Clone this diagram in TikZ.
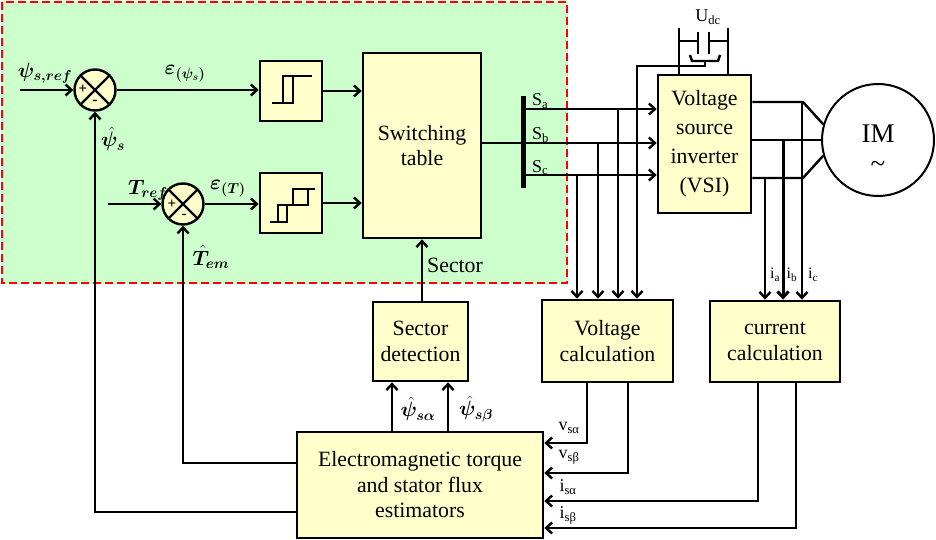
\documentclass[tikz,border=0pt]{standalone}
\usepackage{amsmath}
\usepackage{bm}
\usepackage{fontspec}
\setmainfont{Liberation Serif}
\usetikzlibrary{arrows.meta}
\definecolor{bggreen}{RGB}{204,255,204}
\definecolor{boxy}{RGB}{255,255,204}
\definecolor{dashred}{RGB}{255,0,0}
\tikzset{
  blk/.style={draw, line width=2.6pt, fill=boxy, inner sep=0pt, align=center, font=\fontsize{21.8}{25.5}\selectfont},
  wire/.style={line width=2.4pt},
  arr/.style={wire, -{Straight Barb[length=6pt,width=11pt]}},
  sym/.style={line width=2.4pt},
  lbl/.style={inner sep=0pt, font=\fontsize{20.5}{24}\selectfont},
  sml/.style={inner sep=0pt, font=\fontsize{18}{20}\selectfont},
  tiny/.style={inner sep=0pt, font=\fontsize{16}{18}\selectfont},
  sumj/.style={circle, draw, line width=2.4pt, fill=boxy, minimum size=41pt, inner sep=0pt},
  pm/.style={inner sep=0pt, font=\bfseries\fontsize{15}{15}\selectfont},
}
\begin{document}
\begin{tikzpicture}[x=1pt,y=-1pt]
\useasboundingbox (0,0) rectangle (936,540);
% control region
\fill[bggreen] (1,1) rectangle (568,284);
\draw[dashred, line width=2.6pt, dash pattern=on 8pt off 4pt] (2,2) rectangle (567,283);

% blocks
\node[sumj] (s1) at (95,90) {};
\node[sumj] (s2) at (183,204) {};
\node[blk, minimum width=62pt, minimum height=60pt] (hy1) at (291,91) {};
\node[blk, minimum width=62pt, minimum height=60pt] (hy2) at (291,203) {};
\node[blk, minimum width=118pt, minimum height=185pt] (st) at (422,145.5) {Switching\\table};
\node[blk, minimum width=93pt, minimum height=138pt, font=\fontsize{21.8}{29}\selectfont] (vsi) at (704.5,144) {Voltage\\source\\inverter\\(VSI)};
\node[circle, draw, line width=2pt, fill=white, minimum size=112pt, inner sep=0pt] (im) at (878,140) {};
\node[inner sep=0pt, align=center, font=\fontsize{27}{28}\selectfont] (imtxt) at (878,149) {IM\\[2pt]\textasciitilde};
\node[blk, minimum width=95pt, minimum height=79pt] (sd) at (420.5,341.5) {Sector\\detection};
\node[blk, minimum width=131pt, minimum height=82pt] (vc) at (607.5,341) {Voltage\\calculation};
\node[blk, minimum width=130pt, minimum height=81pt] (cc) at (775,341.5) {current\\calculation};
\node[blk, minimum width=246pt, minimum height=106pt] (est) at (420,485) {Electromagnetic torque\\and stator flux\\estimators};

% summing junction crosses and signs
\draw[sym] (s1.north west) -- (s1.south east) (s1.north east) -- (s1.south west);
\draw[sym] (s2.north west) -- (s2.south east) (s2.north east) -- (s2.south west);
\node[pm] at (83,89) {+};
\node[pm] at (95,102) {-};
\node[pm] at (172,204) {+};
\node[pm] at (184,216) {-};

% hysteresis symbols
\begin{scope}[shift={(hy1.center)}]
  \draw[sym] (-19,12) -- (2,12) -- (2,-15) (-8,12) -- (-8,-15) -- (21,-15);
\end{scope}
\begin{scope}[shift={(hy2.center)}]
  \draw[sym] (-21,19) -- (-4,19) -- (-4,2) (-13,19) -- (-13,2) -- (17,2) -- (17,-14)
             (2,2) -- (2,-14) -- (24,-14);
\end{scope}

% references and errors
\coordinate (in1) at (20,90);
\coordinate (in2) at (108,204);
\draw[arr] (in1) -- (s1.west);
\draw[arr] (s1.east) -- (s1.east -| hy1.west);
\draw[arr] (hy1.east) -- (hy1.east -| st.west);
\draw[arr] (in2) -- (s2.west);
\draw[arr] (s2.east) -- (s2.east -| hy2.west);
\draw[arr] (hy2.east) -- (hy2.east -| st.west);

% feedback
\coordinate (fb1) at (95,512);
\coordinate (fb2) at (183,463);
\draw[arr] (est.west |- fb1) -| (s1.south);
\draw[arr] (est.west |- fb2) -| (s2.south);

% math labels
\node[lbl] at (45,73) {$\bm{\psi_{s,ref}}$};
\node[lbl] at (185,74) {$\bm{\varepsilon_{(\psi_s)}}$};
\node[lbl] at (113,139) {$\bm{\hat{\psi}_s}$};
\node[lbl] at (148,190) {$\bm{T_{ref}}$};
\node[lbl] at (228,189) {$\bm{\varepsilon_{(T)}}$};
\node[lbl] at (211,257) {$\bm{\hat{T}_{em}}$};

% bus bar and switching signals
\coordinate (busT) at (523,96);
\coordinate (busB) at (523,188);
\draw[line width=5pt] (busT) -- (busB);
\coordinate (sa) at (523,109);
\coordinate (sb) at (523,143);
\coordinate (sc) at (523,175);
\draw[wire] (st.east |- sb) -- (sb);
\draw[arr] (sa) -- (sa -| vsi.west);
\draw[arr] (sb) -- (sb -| vsi.west);
\draw[arr] (sc) -- (sc -| vsi.west);
\node[sml, anchor=base west] at (532,106) {S\textsubscript{a}};
\node[sml, anchor=base west] at (532,140) {S\textsubscript{b}};
\node[sml, anchor=base west] at (532,172) {S\textsubscript{c}};

% taps to voltage calculation
\coordinate (ta) at (618,109);
\coordinate (tb) at (598,143);
\coordinate (tc) at (577,175);
\draw[arr] (ta) -- (ta |- vc.north);
\draw[arr] (tb) -- (tb |- vc.north);
\draw[arr] (tc) -- (tc |- vc.north);

% DC link capacitor
\coordinate (capL) at (679,28);
\coordinate (capR) at (728,28);
\draw[wire] (capL) -- (capL |- vsi.north);
\draw[wire] (capR) -- (capR |- vsi.north);
\draw[wire] (679,41) -- (698,41) (698,32) -- (698,54) (709,32) -- (709,54) (709,41) -- (728,41);
\draw[wire] (690,55) -- (692,61) -- (718,61) -- (720,55);
\node[sml] at (708,17) {U\textsubscript{dc}};
\coordinate (dcA) at (705,61);
\coordinate (dcB) at (637,66);
\draw[arr] (dcA) |- (dcB) -- (dcB |- vc.north);

% motor supply
\coordinate (m1) at (803,102);
\coordinate (m2) at (803,140);
\coordinate (m3) at (803,178);
\draw[wire] (vsi.east |- m1) -- (m1) -- (im.164);
\draw[wire] (vsi.east |- m2) -- (im.west);
\draw[wire] (vsi.east |- m3) -- (m3) -- (im.196);

% current taps
\coordinate (ic) at (802,102);
\coordinate (ib) at (783,140);
\coordinate (ia) at (765,178);
\draw[arr] (ic) -- (ic |- cc.north);
\draw[arr, line width=3pt] (ib) -- (ib |- cc.north);
\draw[arr] (ia) -- (ia |- cc.north);
\node[tiny] at (775,275) {i\textsubscript{a}};
\node[tiny] at (792,275) {i\textsubscript{b}};
\node[tiny] at (813,275) {i\textsubscript{c}};

% sector detection
\coordinate (pa) at (392,0);
\coordinate (pb) at (448,0);
\draw[arr] (est.north -| pa) -- (sd.south -| pa);
\draw[arr] (est.north -| pb) -- (sd.south -| pb);
\node[lbl] at (418,409) {$\bm{\hat{\psi}_{s\alpha}}$};
\node[lbl] at (476,409) {$\bm{\hat{\psi}_{s\beta}}$};
\draw[arr] (sd.north -| st.south) -- (st.south);
\node[lbl, anchor=west, font=\fontsize{21.8}{25}\selectfont] at (427,265) {Sector};

% measured quantities to estimator
\coordinate (va) at (587,443);
\coordinate (vb) at (628,473);
\coordinate (ja) at (758,501);
\coordinate (jb) at (796,528);
\draw[arr] (vc.south -| va) |- (est.east |- va);
\draw[arr] (vc.south -| vb) |- (est.east |- vb);
\draw[arr] (cc.south -| ja) |- (est.east |- ja);
\draw[arr] (cc.south -| jb) |- (est.east |- jb);
\node[sml] at (569,428) {v\textsubscript{sα}};
\node[sml] at (569,457) {v\textsubscript{sβ}};
\node[sml] at (568,487) {i\textsubscript{sα}};
\node[sml] at (568,515) {i\textsubscript{sβ}};
\end{tikzpicture}
\end{document}
